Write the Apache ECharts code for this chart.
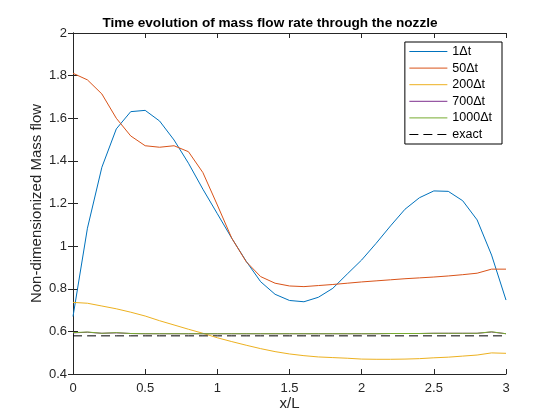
<!DOCTYPE html>
<html>
<head>
<meta charset="utf-8">
<script src="https://cdn.jsdelivr.net/npm/echarts@6/dist/echarts.min.js"></script>
<style>html,body{margin:0;padding:0;background:#fff;}#c{width:560px;height:420px;}</style>
</head>
<body>
<div id="c"></div>
<script>
var xs = [0,0.1,0.2,0.3,0.4,0.5,0.6,0.7,0.8,0.9,1.0,1.1,1.2,1.3,1.4,1.5,1.6,1.7,1.8,1.9,2.0,2.1,2.2,2.3,2.4,2.5,2.6,2.7,2.8,2.9,3.0];
var names = ['1\u0394t','50\u0394t','200\u0394t','700\u0394t','1000\u0394t','exact'];
var flow1 = [0.67,1.084,1.370,1.55,1.631,1.637,1.587,1.498,1.389,1.267,1.152,1.037,0.929,0.833,0.774,0.745,0.739,0.76,0.802,0.869,0.935,1.013,1.095,1.173,1.227,1.259,1.257,1.213,1.123,0.958,0.747];
var flow50 = [1.811,1.780,1.714,1.600,1.517,1.471,1.464,1.471,1.443,1.345,1.193,1.037,0.927,0.857,0.826,0.813,0.810,0.815,0.820,0.826,0.832,0.837,0.842,0.847,0.851,0.855,0.860,0.866,0.873,0.892,0.892];
var flow200 = [0.736,0.732,0.719,0.706,0.69,0.672,0.65,0.63,0.61,0.591,0.57,0.552,0.535,0.519,0.505,0.494,0.486,0.480,0.477,0.474,0.470,0.469,0.469,0.470,0.472,0.476,0.479,0.484,0.489,0.499,0.497];
var flow700 = [0.593,0.596,0.591,0.593,0.590,0.589,0.589,0.589,0.589,0.589,0.589,0.589,0.589,0.589,0.589,0.589,0.589,0.589,0.589,0.589,0.589,0.589,0.590,0.590,0.590,0.591,0.591,0.591,0.591,0.597,0.589];
var flow1000 = [0.594,0.597,0.591,0.594,0.590,0.589,0.589,0.589,0.589,0.589,0.589,0.589,0.589,0.589,0.589,0.589,0.589,0.589,0.589,0.589,0.589,0.589,0.590,0.590,0.590,0.591,0.591,0.591,0.591,0.598,0.589];
var exactVal = [0.579,0.579,0.579,0.579,0.579,0.579,0.579,0.579,0.579,0.579,0.579,0.579,0.579,0.579,0.579,0.579,0.579,0.579,0.579,0.579,0.579,0.579,0.579,0.579,0.579,0.579,0.579,0.579,0.579,0.579,0.579];
var yTicks = ['0.4','0.6','0.8','1','1.2','1.4','1.6','1.8','2'];
var xTicks = ['0','0.5','1','1.5','2','2.5','3'];

var colors = ['#0072BD','#D95319','#EDB120','#7E2F8E','#77AC30','#000000'];
var allData = [flow1, flow50, flow200, flow700, flow1000, exactVal];
function pairs(arr){ return xs.map(function(x,i){ return [x, arr[i]]; }); }

var font = 'Liberation Sans, Arial, Helvetica, sans-serif';
var series = allData.map(function(d,i){
  return {
    name: names[i], type: 'line', data: pairs(d), symbol: 'none', smooth: false,
    lineStyle: { color: colors[i], width: 1, type: i === 5 ? [9,5] : 'solid' },
    itemStyle: { color: colors[i] },
    z: i === 5 ? 1 : 2 + i,
    animation: false
  };
});

var axisLine = { show: true, lineStyle: { color: '#262626', width: 1 } };
var chart = echarts.init(document.getElementById('c'), null, { renderer: 'canvas' });
chart.setOption({
  backgroundColor: '#ffffff',
  animation: false,
  title: {
    text: 'Time evolution of mass flow rate through the nozzle',
    left: 265, top: 11, textAlign: 'center',
    textStyle: { fontFamily: font, fontSize: 13.6, fontWeight: 'bold', color: '#000' }
  },
  grid: { left: 73, right: 54, top: 33, bottom: 46, containLabel: false },
  legend: {
    data: names, orient: 'vertical', right: 58, top: 42,
    itemWidth: 38, itemHeight: 12, itemGap: 3.6,
    padding: [3, 10, 3, 4],
    borderColor: '#000', borderWidth: 1, backgroundColor: '#fff',
    itemStyle: { opacity: 0 },
    lineStyle: { width: 1 },
    textStyle: { fontFamily: font, fontSize: 12.5, color: '#000' }
  },
  xAxis: [{
    type: 'value', min: 0, max: 3, interval: 0.5,
    name: 'x/L', nameLocation: 'middle', nameGap: 22, nameMoveOverlap: false,
    nameTextStyle: { fontFamily: font, fontSize: 15, color: '#262626' },
    axisLine: axisLine,
    axisTick: { show: true, inside: true, length: 5, lineStyle: { color: '#262626' } },
    axisLabel: { fontFamily: font, fontSize: 13, color: '#262626', margin: 8,
      formatter: function(v){ var i = Math.round(v/0.5); return xTicks[i] !== undefined ? xTicks[i] : ''; } },
    splitLine: { show: false }
  },{
    type: 'value', min: 0, max: 3, interval: 0.5, position: 'top',
    axisLine: axisLine,
    axisTick: { show: true, inside: true, length: 5, lineStyle: { color: '#262626' } },
    axisLabel: { show: false }, splitLine: { show: false }
  }],
  yAxis: [{
    type: 'value', min: 0.4, max: 2, interval: 0.2,
    name: 'Non-dimensionized Mass flow', nameLocation: 'middle', nameGap: 29, nameMoveOverlap: false,
    nameTextStyle: { fontFamily: font, fontSize: 15, color: '#262626' },
    axisLine: axisLine,
    axisTick: { show: true, inside: true, length: 5, lineStyle: { color: '#262626' } },
    axisLabel: { fontFamily: font, fontSize: 13, color: '#262626', margin: 6,
      formatter: function(v){ var i = Math.round((v-0.4)/0.2); return yTicks[i] !== undefined ? yTicks[i] : ''; } },
    splitLine: { show: false }
  },{
    type: 'value', min: 0.4, max: 2, interval: 0.2, position: 'right',
    axisLine: axisLine,
    axisTick: { show: true, inside: true, length: 5, lineStyle: { color: '#262626' } },
    axisLabel: { show: false }, splitLine: { show: false }
  }],
  series: series
});
</script>
</body>
</html>
